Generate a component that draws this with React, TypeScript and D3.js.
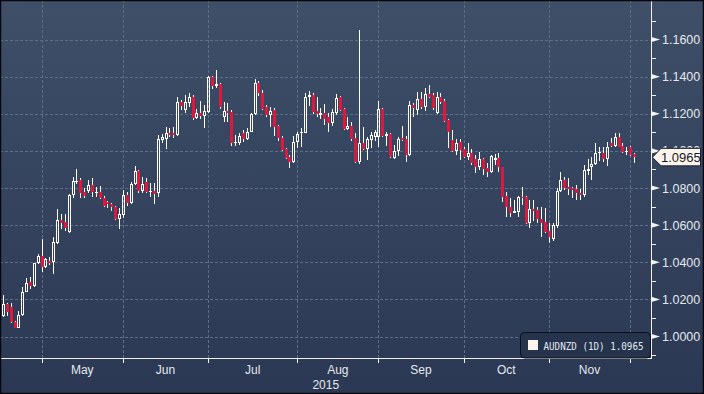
import React, { useEffect, useRef } from "react";
import * as d3 from "d3";

// AUDNZD daily candles, first bar on 17 Apr 2015 (one bar per weekday)
const startDate = "2015-04-17";

const opens = [
  1.011, 1.0175, 1.0159, 1.008, 1.0047, 1.0114, 1.0241, 1.0295, 1.0272, 1.0394,
  1.0434, 1.0376, 1.0407, 1.04, 1.0505, 1.0628, 1.0618, 1.0565, 1.0761, 1.0834,
  1.0843, 1.078, 1.0785, 1.0816, 1.0777, 1.0777, 1.0748, 1.0723, 1.0712, 1.0696,
  1.0633, 1.0655, 1.0763, 1.0721, 1.0822, 1.0892, 1.0785, 1.0834, 1.078, 1.0784,
  1.0771, 1.1058, 1.1064, 1.1098, 1.1098, 1.1085, 1.1265, 1.122, 1.1256, 1.1292,
  1.1179, 1.1206, 1.119, 1.1208, 1.14, 1.1349, 1.136, 1.1184, 1.1215, 1.1211,
  1.104, 1.104, 1.1098, 1.1064, 1.1103, 1.1199, 1.1367, 1.131, 1.1238, 1.1193,
  1.122, 1.1135, 1.1071, 1.1008, 1.0969, 1.0942, 1.1049, 1.1095, 1.1098, 1.1288,
  1.13, 1.1215, 1.1193, 1.1206, 1.118, 1.1148, 1.1202, 1.1288, 1.1224, 1.1118,
  1.1134, 1.1071, 1.0942, 1.104, 1.1008, 1.1058, 1.1076, 1.1073, 1.1224, 1.108,
  1.1089, 1.0963, 1.0999, 1.1067, 1.1062, 1.0978, 1.1247, 1.122, 1.1278, 1.1238,
  1.1306, 1.13, 1.1206, 1.1288, 1.1269, 1.1166, 1.1059, 1.1001, 1.1049, 1.1008,
  1.0965, 1.099, 1.0955, 1.0912, 1.0955, 1.0909, 1.0888, 1.0951, 1.096, 1.0912,
  1.0757, 1.0696, 1.0667, 1.0672, 1.075, 1.075, 1.061, 1.0685, 1.0681, 1.0635,
  1.0617, 1.0568, 1.0524, 1.0595, 1.0785, 1.0843, 1.0804, 1.0798, 1.0793, 1.0775,
  1.0762, 1.0893, 1.0911, 1.0929, 1.0987, 1.099, 1.0955, 1.1041, 1.1026, 1.1073,
  1.1026, 1.0995, 1.1019, 1.0983,
];

const highs = [
  1.0224, 1.0179, 1.0179, 1.0085, 1.0137, 1.0268, 1.0317, 1.0322, 1.0398, 1.0444,
  1.0525, 1.0424, 1.043, 1.0534, 1.0685, 1.0658, 1.0658, 1.0768, 1.0861, 1.0901,
  1.0852, 1.0798, 1.0843, 1.0852, 1.0804, 1.081, 1.0757, 1.0732, 1.0721, 1.0705,
  1.069, 1.079, 1.078, 1.0834, 1.0918, 1.0897, 1.0861, 1.0852, 1.0825, 1.0825,
  1.1085, 1.109, 1.1127, 1.1122, 1.113, 1.1289, 1.1274, 1.13, 1.131, 1.1301,
  1.1224, 1.1269, 1.1247, 1.1403, 1.1403, 1.1435, 1.1364, 1.1265, 1.126, 1.122,
  1.1085, 1.1095, 1.1112, 1.1122, 1.1202, 1.1386, 1.1378, 1.1328, 1.1247, 1.1238,
  1.1229, 1.1139, 1.108, 1.1014, 1.0978, 1.108, 1.1103, 1.1122, 1.1313, 1.1323,
  1.131, 1.1292, 1.1229, 1.1252, 1.1202, 1.1224, 1.1306, 1.1295, 1.1229, 1.1184,
  1.1157, 1.1095, 1.1651, 1.1126, 1.1073, 1.1103, 1.1112, 1.1269, 1.1229, 1.1103,
  1.1094, 1.1032, 1.1076, 1.1134, 1.108, 1.127, 1.126, 1.1319, 1.1319, 1.1337,
  1.1355, 1.1313, 1.1319, 1.1313, 1.1278, 1.117, 1.1113, 1.1062, 1.1062, 1.1022,
  1.1041, 1.1008, 1.0978, 1.0996, 1.096, 1.0933, 1.0978, 1.0981, 1.0987, 1.0915,
  1.078, 1.0744, 1.0735, 1.0757, 1.0807, 1.0757, 1.0735, 1.0735, 1.0699, 1.0699,
  1.069, 1.0613, 1.061, 1.0798, 1.0888, 1.0858, 1.0852, 1.0804, 1.0816, 1.0793,
  1.0924, 1.0954, 1.0969, 1.1041, 1.1022, 1.1022, 1.1049, 1.1068, 1.1095, 1.1095,
  1.1044, 1.1022, 1.1026, 1.099,
];

const lows = [
  1.0107, 1.011, 1.0074, 1.0044, 1.0044, 1.0112, 1.0238, 1.0254, 1.0268, 1.039,
  1.0347, 1.037, 1.0385, 1.0338, 1.05, 1.0579, 1.057, 1.0559, 1.0748, 1.0822,
  1.0745, 1.0745, 1.0771, 1.075, 1.075, 1.0739, 1.0699, 1.0691, 1.0678, 1.0628,
  1.0579, 1.064, 1.0703, 1.0714, 1.0816, 1.0775, 1.0771, 1.0771, 1.0753, 1.0714,
  1.0753, 1.104, 1.101, 1.1073, 1.1068, 1.108, 1.122, 1.1202, 1.1238, 1.1166,
  1.117, 1.117, 1.1122, 1.1202, 1.1332, 1.1337, 1.1224, 1.1157, 1.1157, 1.1025,
  1.1025, 1.1032, 1.105, 1.1058, 1.11, 1.1193, 1.1296, 1.122, 1.1184, 1.113,
  1.108, 1.1055, 1.1001, 1.0955, 1.0906, 1.0933, 1.1014, 1.1019, 1.1095, 1.1242,
  1.12, 1.1184, 1.117, 1.1139, 1.1103, 1.1134, 1.1193, 1.1216, 1.1112, 1.1112,
  1.1055, 1.0936, 1.0928, 1.1005, 1.0951, 1.1014, 1.1055, 1.1019, 1.1076, 1.1026,
  1.0963, 1.0955, 1.0972, 1.1055, 1.0942, 1.0972, 1.1184, 1.1193, 1.1224, 1.1216,
  1.1283, 1.122, 1.1199, 1.1252, 1.1157, 1.1014, 1.0995, 1.0978, 1.0951, 1.096,
  1.0951, 1.0924, 1.0879, 1.0897, 1.087, 1.0858, 1.0879, 1.0924, 1.0888, 1.0726,
  1.0645, 1.0645, 1.0664, 1.0645, 1.0708, 1.0606, 1.0583, 1.0624, 1.061, 1.0538,
  1.0556, 1.0502, 1.0516, 1.0583, 1.078, 1.0789, 1.0762, 1.0744, 1.0735, 1.0735,
  1.0753, 1.087, 1.0843, 1.0924, 1.0947, 1.0942, 1.0918, 1.1022, 1.1019, 1.1019,
  1.0987, 1.0978, 1.0972, 1.0933,
];

const closes = [
  1.0175, 1.0134, 1.008, 1.0047, 1.0116, 1.0241, 1.029, 1.0272, 1.0394, 1.0434,
  1.0376, 1.0417, 1.0398, 1.0507, 1.0628, 1.0613, 1.0586, 1.0762, 1.0836, 1.0838,
  1.0771, 1.0759, 1.0816, 1.0777, 1.0779, 1.0745, 1.0705, 1.0712, 1.0696, 1.0633,
  1.0658, 1.0763, 1.0721, 1.082, 1.0892, 1.0785, 1.0822, 1.078, 1.0782, 1.0768,
  1.1064, 1.1073, 1.1095, 1.1085, 1.1085, 1.1262, 1.1242, 1.1265, 1.1292, 1.1175,
  1.1206, 1.1188, 1.1217, 1.14, 1.1351, 1.136, 1.1235, 1.1215, 1.1206, 1.104,
  1.1049, 1.108, 1.1062, 1.1103, 1.1199, 1.1367, 1.131, 1.1226, 1.1193, 1.1216,
  1.113, 1.1071, 1.1005, 1.0963, 1.0942, 1.1049, 1.1091, 1.1103, 1.1288, 1.13,
  1.1211, 1.1199, 1.1206, 1.117, 1.1148, 1.1209, 1.1283, 1.122, 1.1118, 1.1134,
  1.1062, 1.0942, 1.104, 1.1008, 1.1062, 1.1085, 1.11, 1.1224, 1.108, 1.109,
  1.0969, 1.0999, 1.1062, 1.1058, 1.0978, 1.1247, 1.1229, 1.1278, 1.1235, 1.1306,
  1.1292, 1.1229, 1.1288, 1.1265, 1.1163, 1.11, 1.1001, 1.1044, 1.1005, 1.0965,
  1.099, 1.0936, 1.0912, 1.0955, 1.0901, 1.0888, 1.0972, 1.096, 1.0912, 1.075,
  1.0696, 1.0667, 1.0675, 1.075, 1.0745, 1.061, 1.0685, 1.0678, 1.0631, 1.0613,
  1.0565, 1.0534, 1.0599, 1.0785, 1.0843, 1.0798, 1.0793, 1.0789, 1.0771, 1.0764,
  1.0897, 1.09, 1.0929, 1.099, 1.0995, 1.0955, 1.1022, 1.1026, 1.1073, 1.1022,
  1.0995, 1.1, 1.0978, 1.0965,
];

const yTicks = [1.0, 1.02, 1.04, 1.06, 1.08, 1.1, 1.12, 1.14, 1.16];
const yMinorTicks = [0.99, 1.01, 1.03, 1.05, 1.07, 1.09, 1.11, 1.13, 1.15, 1.17];
const seriesName = "AUDNZD (1D)";
const yearLabel = "2015";

const WIDTH = 704;
const HEIGHT = 394;
const AXIS_X = 651.5;
const AXIS_Y = 358.5;

const UP = "#ffffff";
const DOWN = "#e0173d";
const GRID = "#5a7088";
const TEXT = "#e4e8ee";

const App = () => {
  const ref = useRef<SVGSVGElement>(null);

  useEffect(() => {
    const svg = d3.select(ref.current);
    svg.selectAll("*").remove();

    const n = closes.length;
    const last = closes[n - 1];

    // weekday calendar for the bars
    const start = d3.timeParse("%Y-%m-%d")(startDate) as Date;
    const dates = d3.timeDay
      .range(start, d3.timeDay.offset(start, 400))
      .filter((d) => d.getDay() !== 0 && d.getDay() !== 6)
      .slice(0, n);

    const x = d3.scaleLinear().domain([0, n - 1]).range([2.9, 634]);
    const y = d3.scaleLinear().domain([1.0, 1.16]).range([336.5, 39.5]);

    // background
    const defs = svg.append("defs");
    const grad = defs
      .append("linearGradient")
      .attr("id", "bg")
      .attr("x1", 0)
      .attr("y1", 0)
      .attr("x2", 0)
      .attr("y2", 1);
    grad.append("stop").attr("offset", "0%").attr("stop-color", "#3f4f68");
    grad.append("stop").attr("offset", "100%").attr("stop-color", "#2b3854");

    svg
      .append("rect")
      .attr("width", WIDTH)
      .attr("height", HEIGHT)
      .attr("fill", "url(#bg)");

    // month boundaries (first bar of each month)
    const bounds: number[] = [];
    dates.forEach((d, i) => {
      if (i > 0 && d.getMonth() !== dates[i - 1].getMonth()) bounds.push(i);
    });

    const grid = svg.append("g").attr("shape-rendering", "crispEdges");
    grid
      .selectAll(".hgrid")
      .data(yTicks)
      .enter()
      .append("line")
      .attr("x1", 0)
      .attr("x2", AXIS_X)
      .attr("y1", (d) => Math.round(y(d)) + 0.5)
      .attr("y2", (d) => Math.round(y(d)) + 0.5)
      .attr("stroke", GRID)
      .attr("stroke-dasharray", "3,2");
    grid
      .selectAll(".vgrid")
      .data(bounds)
      .enter()
      .append("line")
      .attr("x1", (d) => Math.round(x(d)) + 0.5)
      .attr("x2", (d) => Math.round(x(d)) + 0.5)
      .attr("y1", 0)
      .attr("y2", AXIS_Y)
      .attr("stroke", GRID)
      .attr("stroke-dasharray", "3,2");

    // candles
    const candles = svg
      .append("g")
      .attr("shape-rendering", "crispEdges")
      .selectAll("g")
      .data(d3.range(n))
      .enter()
      .append("g");

    candles.each(function (i) {
      const g = d3.select(this);
      const o = opens[i];
      const c = closes[i];
      const px = Math.round(x(i));
      const cx = px + 0.5;
      const top = Math.round(y(Math.max(o, c)));
      const bot = Math.max(top + 1, Math.round(y(Math.min(o, c))));
      const hi = Math.round(y(highs[i]));
      const lo = Math.round(y(lows[i]));
      if (c >= o) {
        g.append("line")
          .attr("x1", cx).attr("x2", cx)
          .attr("y1", hi).attr("y2", top)
          .attr("stroke", UP);
        g.append("line")
          .attr("x1", cx).attr("x2", cx)
          .attr("y1", bot).attr("y2", lo)
          .attr("stroke", UP);
        if (bot - top <= 2) {
          g.append("rect")
            .attr("x", px - 1).attr("y", top)
            .attr("width", 3).attr("height", bot - top)
            .attr("fill", UP);
        } else {
          g.append("rect")
            .attr("x", px - 0.5).attr("y", top + 0.5)
            .attr("width", 2).attr("height", bot - top - 1)
            .attr("fill", "none")
            .attr("stroke", UP);
        }
      } else {
        g.append("line")
          .attr("x1", cx).attr("x2", cx)
          .attr("y1", hi).attr("y2", lo)
          .attr("stroke", UP);
        g.append("rect")
          .attr("x", px - 1).attr("y", top)
          .attr("width", 3).attr("height", bot - top)
          .attr("fill", DOWN);
      }
    });

    // axes
    const axes = svg.append("g").attr("shape-rendering", "crispEdges");
    axes
      .append("line")
      .attr("x1", AXIS_X).attr("x2", AXIS_X)
      .attr("y1", 0).attr("y2", AXIS_Y + 0.5)
      .attr("stroke", "#f2f2f2");
    axes
      .append("line")
      .attr("x1", 0).attr("x2", AXIS_X)
      .attr("y1", AXIS_Y).attr("y2", AXIS_Y)
      .attr("stroke", "#f2f2f2");
    axes
      .selectAll(".xtick")
      .data(bounds)
      .enter()
      .append("line")
      .attr("x1", (d) => Math.round(x(d)) + 0.5)
      .attr("x2", (d) => Math.round(x(d)) + 0.5)
      .attr("y1", AXIS_Y)
      .attr("y2", AXIS_Y + 4)
      .attr("stroke", "#f2f2f2");
    axes
      .selectAll(".minor")
      .data(yMinorTicks)
      .enter()
      .append("line")
      .attr("x1", AXIS_X)
      .attr("x2", AXIS_X + 4)
      .attr("y1", (d) => Math.round(y(d)) + 0.5)
      .attr("y2", (d) => Math.round(y(d)) + 0.5)
      .attr("stroke", "#f2f2f2");

    svg
      .append("g")
      .selectAll("path")
      .data(yTicks)
      .enter()
      .append("path")
      .attr("d", (d) => {
        const yy = y(d);
        return `M${AXIS_X},${yy - 2.6}L${AXIS_X + 8.5},${yy}L${AXIS_X},${yy + 2.6}Z`;
      })
      .attr("fill", "#f4f4f4");

    svg
      .append("g")
      .selectAll("text")
      .data(yTicks)
      .enter()
      .append("text")
      .attr("x", 662)
      .attr("y", (d) => y(d) + 4.5)
      .attr("fill", TEXT)
      .style("font-family", "'Liberation Sans', Arial, sans-serif")
      .style("font-size", "12.5px")
      .text((d) => d3.format(".4f")(d));

    // month labels centred between boundaries
    const fmtMonth = d3.timeFormat("%b");
    const months = d3.range(bounds.length - 1).map((k) => ({
      label: fmtMonth(dates[bounds[k]]),
      cx: (x(bounds[k]) + x(bounds[k + 1])) / 2,
    }));
    svg
      .append("g")
      .selectAll("text")
      .data(months)
      .enter()
      .append("text")
      .attr("x", (d) => d.cx)
      .attr("y", 374)
      .attr("text-anchor", "middle")
      .attr("fill", TEXT)
      .style("font-family", "'Liberation Sans', Arial, sans-serif")
      .style("font-size", "12px")
      .text((d) => d.label);

    svg
      .append("text")
      .attr("x", AXIS_X / 2)
      .attr("y", 389)
      .attr("text-anchor", "middle")
      .attr("fill", TEXT)
      .style("font-family", "'Liberation Sans', Arial, sans-serif")
      .style("font-size", "12px")
      .text(yearLabel);

    // last price tag
    const ly = y(last);
    svg
      .append("path")
      .attr(
        "d",
        `M${AXIS_X + 1},${ly}L${AXIS_X + 9.5},${ly - 9}L700.5,${ly - 9}L700.5,${ly + 8.5}L${AXIS_X + 9.5},${ly + 8.5}Z`
      )
      .attr("fill", "#fdf5ec")
      .attr("stroke", "#1c2233")
      .attr("stroke-width", 1);
    svg
      .append("text")
      .attr("x", 661)
      .attr("y", ly + 5)
      .attr("fill", "#141a28")
      .style("font-family", "'Liberation Sans', Arial, sans-serif")
      .style("font-size", "13px")
      .text(d3.format(".4f")(last));

    // legend
    const legend = svg.append("g");
    legend
      .append("rect")
      .attr("x", 520.5)
      .attr("y", 332.5)
      .attr("width", 130)
      .attr("height", 25.5)
      .attr("rx", 4)
      .attr("fill", "#26334c")
      .attr("stroke", "#0b0f18");
    legend
      .append("rect")
      .attr("x", 528)
      .attr("y", 340)
      .attr("width", 10)
      .attr("height", 10)
      .attr("fill", "#fff3ee");
    legend
      .append("text")
      .attr("x", 543.5)
      .attr("y", 349.5)
      .attr("fill", TEXT)
      .attr("textLength", 100)
      .attr("lengthAdjust", "spacingAndGlyphs")
      .style("font-family", "'DejaVu Sans Mono', monospace")
      .style("font-size", "10px")
      .text(`${seriesName} ${d3.format(".4f")(last)}`);

    // frame
    svg
      .append("rect")
      .attr("x", 0.5)
      .attr("y", 0.5)
      .attr("width", WIDTH - 1)
      .attr("height", HEIGHT - 1)
      .attr("fill", "none")
      .attr("stroke", "#05070c")
      .attr("stroke-width", 1.5);
  }, []);

  return (
    <svg
      ref={ref}
      width={WIDTH}
      height={HEIGHT}
      style={{ position: "absolute", left: 0, top: 0, display: "block" }}
    />
  );
};

export default App;
